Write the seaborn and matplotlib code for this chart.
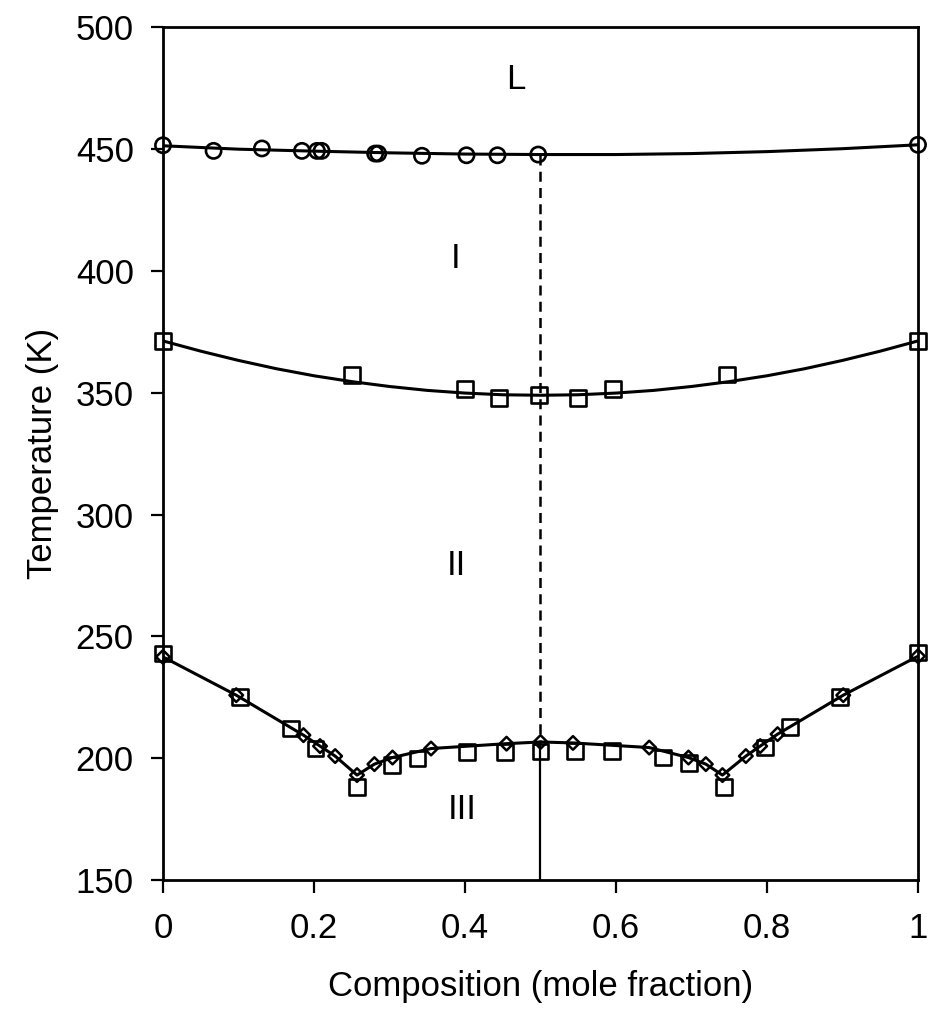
import numpy as np
import pandas as pd
import matplotlib as mpl
mpl.use('Agg')
import matplotlib.pyplot as plt
import seaborn as sns

# liquidus (circles)
circ_x = [0, 0.067, 0.131, 0.184, 0.204, 0.210, 0.281, 0.285, 0.343, 0.402, 0.443, 0.497, 1.0]
circ_T = [451.6, 449.3, 450.3, 449.3, 449.3, 449.3, 448.2, 448.2, 447.3, 447.5, 447.5, 447.8, 451.8]
# liquidus curve
top_x = [0, 0.1, 0.2, 0.3, 0.4, 0.5, 0.6, 0.7, 0.8, 0.9, 1.0]
top_T = [451.4, 450.0, 449.2, 448.5, 448.0, 447.8, 447.8, 448.2, 449.0, 450.2, 451.8]

# I/II transition (squares)
sqm_x = [0, 0.250, 0.400, 0.445, 0.498, 0.550, 0.596, 0.747, 1.0]
sqm_T = [371.3, 357.2, 351.7, 348.0, 349.2, 348.0, 351.7, 357.5, 371.3]
mid_x = [0, 0.05, 0.1, 0.15, 0.2, 0.25, 0.3, 0.35, 0.4, 0.45, 0.5,
         0.55, 0.6, 0.65, 0.7, 0.75, 0.8, 0.85, 0.9, 0.95, 1.0]
mid_T = [371.3, 367.1, 363.3, 359.9, 357.0, 354.6, 352.6, 351.0, 349.9, 349.2, 349.0,
         349.2, 349.9, 351.0, 352.6, 354.6, 357.0, 359.9, 363.3, 367.1, 371.3]

# II/III transition: squares and diamonds
sql_x = [0, 0.102, 0.170, 0.202, 0.257, 0.303, 0.337, 0.403, 0.453, 0.500,
         0.546, 0.595, 0.662, 0.697, 0.743, 0.797, 0.830, 0.897, 1.0]
sql_T = [243.0, 225.0, 212.2, 204.0, 188.3, 197.2, 199.9, 202.6, 202.6, 202.8,
         203.0, 203.0, 200.3, 198.1, 188.3, 204.4, 212.7, 225.2, 243.4]
dia_x = [0, 0.097, 0.186, 0.208, 0.228, 0.257, 0.280, 0.304, 0.355, 0.455, 0.500,
         0.543, 0.644, 0.696, 0.719, 0.741, 0.772, 0.791, 0.814, 0.901, 1.0]
dia_T = [241.6, 225.9, 209.5, 205.0, 200.9, 193.1, 197.6, 200.3, 204.0, 206.0, 206.7,
         206.3, 204.4, 200.3, 197.6, 193.1, 200.9, 205.0, 209.9, 225.9, 241.9]

# vertical line at x = 0.5
vx = 0.5
v_top, v_mid, v_bot = 447.8, 206.7, 150

phases = ['L', 'I', 'II', 'III']
phase_x = [0.467, 0.388, 0.388, 0.396]
phase_T = [478.7, 405.2, 279.1, 178.8]

sns.set_style('ticks')
plt.rcParams['font.family'] = ['Liberation Sans', 'DejaVu Sans']
plt.rcParams.update({'text.color': 'black', 'axes.labelcolor': 'black',
                     'xtick.color': 'black', 'ytick.color': 'black'})

fig = plt.figure(figsize=(9.46, 10.21), dpi=100)
ax = fig.add_axes([0.1723, 0.138, 0.7981, 0.8352])

sns.lineplot(x=top_x, y=top_T, ax=ax, color='black', lw=2.2, sort=False)
sns.lineplot(x=mid_x, y=mid_T, ax=ax, color='black', lw=2.2, sort=False)
sns.lineplot(x=dia_x, y=dia_T, ax=ax, color='black', lw=2.2, sort=False)

ax.plot([vx, vx], [v_top, v_mid], color='black', lw=1.8, ls=(0, (4, 2.5)))
ax.plot([vx, vx], [v_mid, v_bot], color='black', lw=1.6)

sns.scatterplot(x=circ_x, y=circ_T, ax=ax, marker='o', s=120, clip_on=False,
                facecolor='none', edgecolor='black', linewidth=1.9, zorder=3)
sns.scatterplot(x=sqm_x, y=sqm_T, ax=ax, marker='s', s=130, clip_on=False,
                facecolor='none', edgecolor='black', linewidth=1.9, zorder=3)
sns.scatterplot(x=sql_x, y=sql_T, ax=ax, marker='s', s=130, clip_on=False,
                facecolor='none', edgecolor='black', linewidth=1.9, zorder=3)
sns.scatterplot(x=dia_x, y=dia_T, ax=ax, marker='D', s=48, clip_on=False,
                facecolor='none', edgecolor='black', linewidth=1.8, zorder=4)

for lab, px, py in zip(phases, phase_x, phase_T):
    ax.text(px, py, lab, fontsize=25, ha='center', va='center')

ax.set_xlim(0, 1)
ax.set_ylim(150, 500)
ax.set_xticks([0, 0.2, 0.4, 0.6, 0.8, 1])
ax.set_xticklabels(['0', '0.2', '0.4', '0.6', '0.8', '1'])
ax.set_yticks(np.arange(150, 501, 50))
ax.tick_params(axis='both', labelsize=25, length=9, width=1.6)
ax.tick_params(axis='x', pad=14)
ax.tick_params(axis='y', pad=12)
for sp in ax.spines.values():
    sp.set_linewidth(2)
    sp.set_color('black')

ax.set_xlabel('Composition (mole fraction)', fontsize=25, labelpad=18)
ax.set_ylabel('Temperature (K)', fontsize=25, labelpad=12)

fig.savefig('out.png', dpi=100)
